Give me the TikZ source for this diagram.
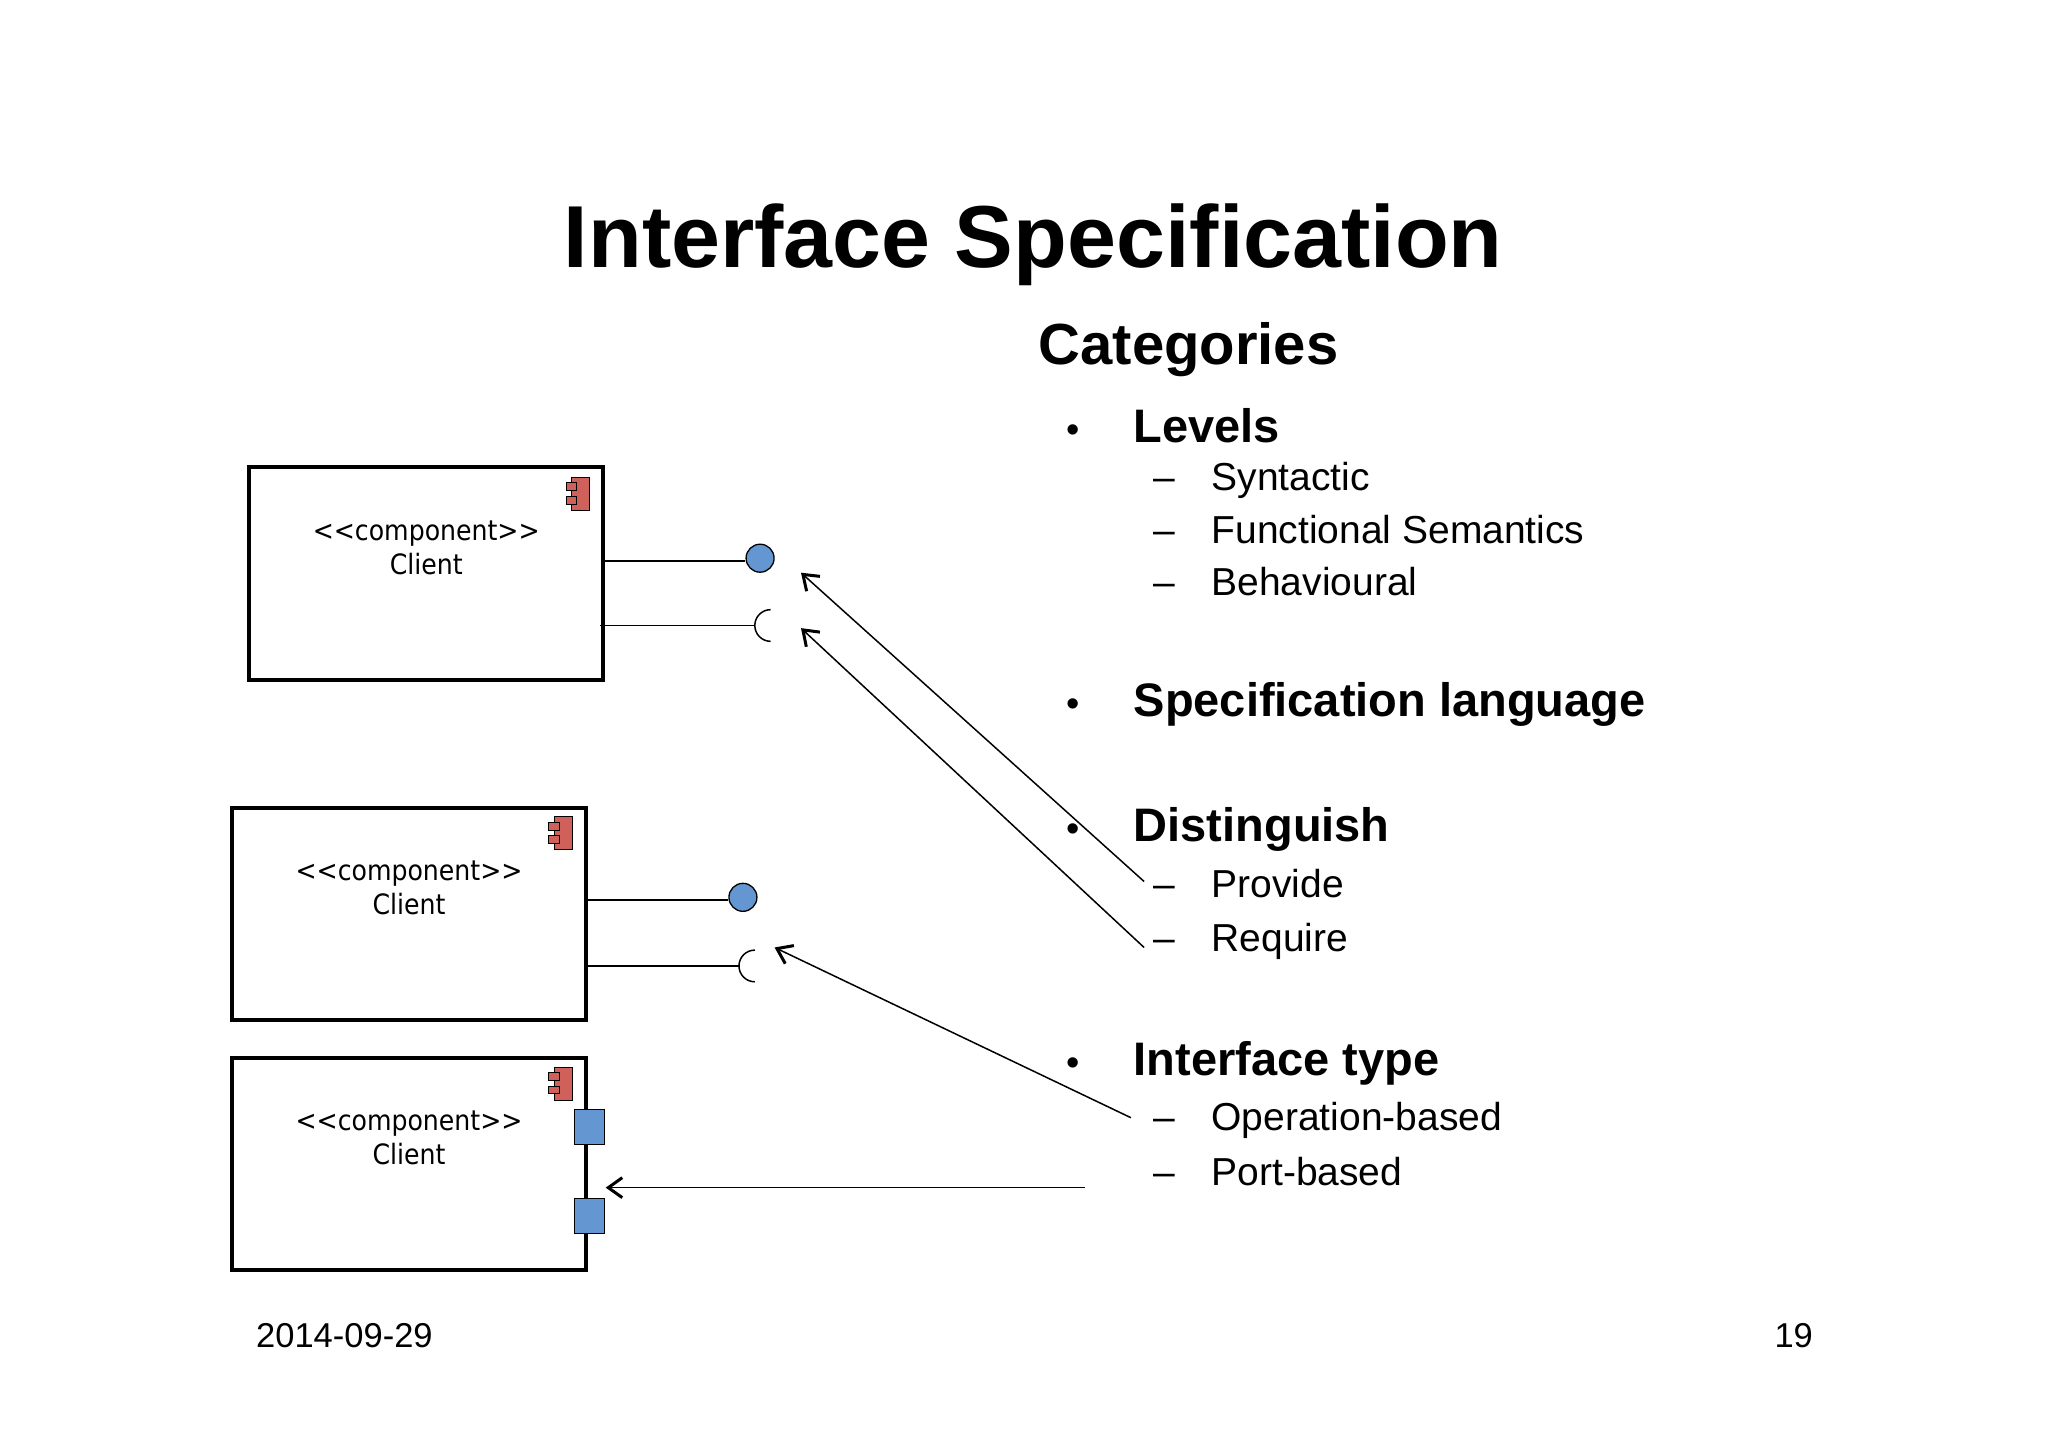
\documentclass[tikz,border=0pt]{standalone}
\usepackage{fontspec}
\setmainfont{Liberation Sans}
\newfontfamily\compfont{DejaVu Sans Condensed}
\usetikzlibrary{arrows.meta}
\definecolor{iconred}{RGB}{208,96,90}
\definecolor{ifblue}{RGB}{100,150,210}
\begin{document}
\begin{tikzpicture}[x=1.3196pt,y=-1.3196pt,
  box/.style={draw,line width=4pt,minimum width=353.7pt,minimum height=212.5pt,inner sep=0pt},
  lab/.style={font=\compfont\fontsize{28}{34}\selectfont,align=center,inner sep=0pt},
  lolli/.style={circle,draw,fill=ifblue,line width=1.3pt,minimum width=26pt,minimum height=28pt,inner sep=0pt},
  port/.style={draw,fill=ifblue,line width=1.3pt,minimum width=30pt,minimum height=35pt,inner sep=0pt},
  wire/.style={line width=1.5pt},
  arr/.style={line width=1.5pt,-{Straight Barb[length=14pt,width=20pt,line width=3pt]}},
  tx/.style={anchor=base west,inner sep=0pt},
  h1/.style={tx,font=\bfseries\fontsize{47}{55}\selectfont},
  h2/.style={tx,font=\fontsize{39}{46}\selectfont},
  compicon/.pic={
    \draw[fill=iconred,line width=1pt] (-14,0) rectangle (0,25);
    \draw[fill=iconred,line width=1pt] (-18,4) rectangle (-10,10);
    \draw[fill=iconred,line width=1pt] (-18,14) rectangle (-10,20);
  }]
\useasboundingbox (0,0) rectangle (1552,1097);
\fill[white] (0,0) rectangle (1552,1097);

% title
\node[anchor=base,inner sep=0pt,font=\bfseries\fontsize{88}{100}\selectfont] (title) at (783,203) {Interface Specification};
\node[tx,font=\bfseries\fontsize{58}{66}\selectfont] (cat) at (787,276) {Categories};

% bullets
\foreach \y/\t [count=\i] in {335/Levels,543/Specification language,638/Distinguish,815/Interface type}{
  \node[tx,font=\fontsize{38}{38}\selectfont] (bul\i) at (808,\y) {•};
  \node[h1] (head\i) at (859,\y) {\t};
}
\foreach \y/\t [count=\i] in {372/Syntactic,412/Functional Semantics,451/Behavioural,680/Provide,721/Require,857/Operation-based,898/Port-based}{
  \node[h2] (dash\i) at (874,\y) {–};
  \node[h2] (sub\i) at (918,\y) {\t};
}

% boxes
\node[box] (b1) at (323,434.5) {};
\node[box] (b2) at (310,692.5) {};
\node[box] (b3) at (310,882) {};
\node[lab] (l1) at (323,415) {<<component>>\\Client};
\node[lab] (l2) at (310,673) {<<component>>\\Client};
\node[lab] (l3) at (310,862) {<<component>>\\Client};
\pic at (447,362) {compicon};
\pic at (434,619) {compicon};
\pic at (434,809) {compicon};

% interfaces box 1
\node[lolli] (p1) at (576,423) {};
\coordinate (w1) at (457,425);
\draw[wire] (w1) -- (p1.west |- w1);
\coordinate (s1) at (572,474);
\draw[wire] (455,474) -- (s1);
\draw[wire] (584,462) arc[start angle=-90,end angle=-270,radius=12];
% box 2
\node[lolli] (p2) at (563,680) {};
\coordinate (w2) at (444,682);
\draw[wire] (w2) -- (p2.west |- w2);
\coordinate (s2) at (560,732);
\draw[wire] (444,732) -- (s2);
\draw[wire] (572,720) arc[start angle=-90,end angle=-270,radius=12];
% box 3 ports
\node[port] (q1) at (446.5,854) {};
\node[port] (q2) at (446.5,921.5) {};

% arrows
\coordinate (a1) at (867,668); \coordinate (t1) at (607,434);
\coordinate (a2) at (867,718); \coordinate (t2) at (607,476);
\coordinate (a3) at (857,847); \coordinate (t3) at (587,718);
\coordinate (a4) at (822,900); \coordinate (t4) at (459,900);
\draw[arr] (a1) -- (t1);
\draw[arr] (a2) -- (t2);
\draw[arr] (a3) -- (t3);
\draw[arr] (a4) -- (t4);

% footer
\node[tx,font=\fontsize{34.5}{40}\selectfont] (date) at (194,1021) {2014-09-29};
\node[anchor=base east,inner sep=0pt,font=\fontsize{34.5}{40}\selectfont] (page) at (1374,1021) {19};
\end{tikzpicture}
\end{document}
